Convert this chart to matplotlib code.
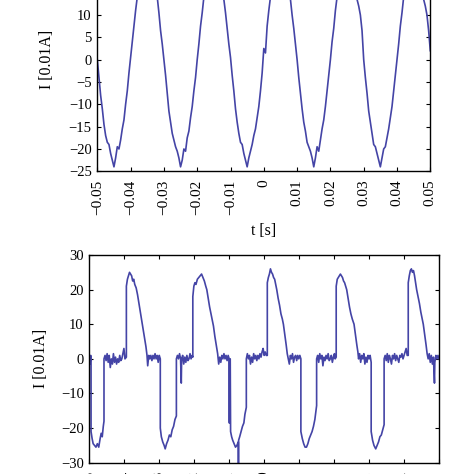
import numpy as np
import matplotlib
matplotlib.use('Agg')
import matplotlib.pyplot as plt

plt.rcParams['font.family'] = ['Liberation Serif', 'DejaVu Serif']
plt.rcParams['axes.unicode_minus'] = True

# tick labels shared by both panels
x_ticks = [-0.05, -0.04, -0.03, -0.02, -0.01, 0, 0.01, 0.02, 0.03, 0.04, 0.05]
x_tick_labels = ['\u22120.05', '\u22120.04', '\u22120.03', '\u22120.02', '\u22120.01', '0',
                 '0.01', '0.02', '0.03', '0.04', '0.05']
top_y_ticks = [-25, -20, -15, -10, -5, 0, 5, 10, 15, 20, 25]
bottom_y_ticks = [-30, -20, -10, 0, 10, 20, 30]

# top panel: sampled every 0.5 ms from -50 ms to 50 ms
top_t_start_ms = -50.0
top_t_step_ms = 0.5
top_current = [
    # -50 .. -30.5 ms
    0, -4, -8, -11, -14.5, -17, -18.5, -19, -21, -22.5, -24,
    -22, -19.5, -20, -18, -15.5, -13.5, -10, -7, -3, 0.5,
    4, 7.5, 11, 14, 17, 19.5, 21.5, 23, 23.5, 24,
    23.5, 22.5, 21, 19, 16.5, 14, 10.5, 6.5, 3.5,
    # -30 .. -10.5 ms
    0, -3.5, -7.5, -11.5, -14, -16.5, -18, -19.5, -20.5, -22, -24,
    -22.5, -20, -20.5, -17.5, -16, -13, -10.5, -7, -4, 0,
    3.5, 7.5, 10.5, 14, 17, 19.5, 21.5, 23, 23.5, 24,
    23.5, 22.5, 21, 19, 16.5, 13.5, 10.5, 7, 3.5,
    # -10 .. 9.5 ms
    0.5, -3.5, -7, -11, -14, -16.5, -18.5, -19, -21, -22.5, -24,
    -22, -20.5, -19, -17, -15.5, -13, -10.5, -7, -3, 2.5,
    1.5, 7.5, 11, 14, 17, 19.5, 21.5, 23, 23.5, 24,
    23.5, 22.5, 21, 19, 16.5, 13.5, 10, 7, 3.5,
    # 10 .. 29.5 ms
    0, -4, -7.5, -11, -14, -16, -18.5, -19.5, -20.5, -22, -24,
    -22, -19.5, -20.5, -18, -15.5, -13.5, -10.5, -7, -3.5, 0,
    4, 7, 11, 14, 17, 19.5, 21.5, 23, 23.5, 24,
    23.5, 22.5, 21, 19, 16.5, 13.5, 12, 10, 6.5,
    # 30 .. 50 ms
    0, -4, -7.5, -11.5, -14, -16.5, -19, -19.5, -21, -22.5, -24,
    -22, -20, -19.5, -17.5, -15.5, -13, -10.5, -7, -3.5, 0,
    3.5, 7.5, 10.5, 14, 17, 19.5, 21.5, 23, 23.5, 24,
    23.5, 22.5, 21, 19, 16.5, 13.5, 12, 10, 6.5,
    2,
]

# bottom panel: breakpoints (time in ms, current)
bottom_t_ms = [
    -50.0, -49.8, -49.6, -49.5, -49.5, -49.2, -48.9, -48.5, -48.1, -47.7, -47.3, -46.9, -46.6, -46.3, -46.0, -45.8,
    -45.8, -45.5, -45.2, -44.9, -44.6, -44.3, -44.0, -43.7, -43.4, -43.1, -42.8, -42.5, -42.2, -41.9, -41.6, -41.3,
    -41.0, -40.7, -40.4, -40.1, -39.8, -39.4,
    -39.4, -39.1, -38.8, -38.5, -38.2, -37.9, -37.6, -37.3, -37.0, -36.6, -36.2, -35.8, -35.4, -35.0, -34.6, -34.2,
    -33.8, -33.5, -33.3, -33.0, -32.7, -32.4, -32.1, -31.8, -31.5, -31.2, -30.9, -30.6, -30.3, -30.0, -29.7,
    -29.7, -29.4, -29.0, -28.6, -28.3, -27.9, -27.5, -27.1, -26.7, -26.3, -25.9, -25.5, -25.1,
    -25.1, -24.8, -24.5, -24.2, -23.9, -23.7, -23.6, -23.3, -23.0, -22.7, -22.4, -22.1, -21.8, -21.5, -21.2, -20.9,
    -20.6, -20.4,
    -20.4, -20.1, -19.8, -19.5, -19.1, -18.7, -18.3, -17.9, -17.5, -17.1, -16.7, -16.4, -16.0, -15.6, -15.2, -14.8,
    -14.5, -14.1, -13.7, -13.3, -13.0, -12.7, -12.4, -12.1, -11.8, -11.5, -11.2, -10.9, -10.6, -10.3, -10.0,
    -10.0, -9.9, -9.9, -9.7,
    -9.6, -9.3, -9.0, -8.6, -8.2, -7.8, -7.4, -7.35, -7.3, -7.0, -6.6, -6.2, -5.8, -5.5, -5.1,
    -5.1, -4.8, -4.5, -4.2, -3.9, -3.6, -3.3, -3.0, -2.7, -2.4, -2.1, -1.8, -1.5, -1.2, -0.9, -0.6, -0.3, 0.0, 0.3,
    0.6, 0.9,
    0.9, 1.2, 1.5, 1.8, 2.1, 2.4, 2.7, 3.0, 3.3, 3.6, 4.0, 4.4, 4.8, 5.2, 5.5, 5.9, 6.3, 6.6, 6.9,
    7.2, 7.5, 7.8, 8.1, 8.4, 8.7, 9.0, 9.3, 9.6, 9.9, 10.2, 10.5,
    10.5, 10.9, 11.3, 11.7, 12.1, 12.5, 12.9, 13.3, 13.7, 14.1, 14.5, 14.8, 15.0,
    15.0, 15.3, 15.6, 15.9, 16.2, 16.5, 16.8, 17.1, 17.4, 17.7, 18.0, 18.3, 18.6, 18.9, 19.2, 19.5, 19.8, 20.1,
    20.3, 20.6,
    20.6, 20.9, 21.2, 21.5, 21.8, 22.1, 22.4, 22.7, 23.0, 23.3, 23.6, 24.0, 24.4, 24.8, 25.2, 25.7, 26.1, 26.5,
    26.8, 27.0, 27.3, 27.6, 27.9, 28.2, 28.5, 28.8, 29.1, 29.4, 29.7, 30.0, 30.3, 30.6,
    30.6, 31.0, 31.4, 31.9, 32.3, 32.7, 33.1, 33.5, 33.9, 34.3,
    34.3, 34.6, 34.9, 35.2, 35.5, 35.8, 36.1, 36.4, 36.7, 37.0, 37.3, 37.6, 37.9, 38.2, 38.5, 38.8, 39.1, 39.4,
    39.7, 40.0, 40.3, 40.6, 40.9, 41.2,
    41.2, 41.5, 41.8, 42.1, 42.4, 42.7, 43.0, 43.3, 43.6, 44.0, 44.4, 44.8, 45.2, 45.5, 45.9, 46.3, 46.6, 46.9,
    47.2, 47.5, 47.8, 48.1, 48.4, 48.7, 48.8, 49.1, 49.4, 49.7, 50.0,
]
bottom_current = [
    0.5, -1.5, 1, 0, -21, -23, -24.5, -25, -25.5, -24.5, -25.5, -23, -21.5, -22.5, -19.5, -18,
    0, 1, -0.5, 1.5, -1, 1, -2.5, 0, -1.5, 1.5, -1, 0.5, -1.5, 0, -1, 1,
    -0.5, 0, 1.5, 3, 0, 0.5,
    21, 23, 24, 25, 24.5, 24, 22.5, 23, 21.5, 20.5, 18.5, 16, 13.5, 11, 8.5, 6,
    3.5, 1, -2, 1, 0, 1, -0.5, 1, 0, 1.5, 0, 1, -1, 1, 0,
    -20, -22.5, -24, -25, -26, -24.5, -23.5, -22, -22.5, -20.5, -19.5, -17.5, -16.5,
    0, 1, 0, 1.5, 0, -7, 0, 1, -1.5, 0.5, -1, 1, -0.5, 0, 1.5, 0,
    1, 0.5,
    18, 21, 22, 21.5, 23, 23.5, 24, 24.5, 23.5, 22.5, 21, 20, 17.5, 15, 13, 11,
    9.5, 6.5, 4, 1.5, -1.5, 0.5, -1, 1, 0, 1.5, 0, 1, -0.5, 1, 0,
    -18.5, -18.5, 0, 0,
    -21, -22.5, -23.5, -24.5, -25.5, -25, -24, -31, -23.5, -22.5, -21, -19.5, -18.5, -16, -14,
    0, 1.5, 0, 1, -1.5, 0.5, -1, 1.5, 0, 1, -0.5, 1, 0, 1.5, 0.5, 2, 3, 1, 2,
    1, 1,
    22, 23.5, 24.5, 26, 25, 24.5, 23.5, 23, 21.5, 20, 17.5, 15.5, 13, 11.5, 10, 7, 4, 1.5, 0,
    -1.5, 1, 0, 1.5, -1, 0.5, 1, -0.5, 1, 0, 1, 0,
    -21, -23, -24.5, -25.5, -25.5, -24.5, -23, -22, -21, -19.5, -17.5, -15, -13.5,
    0, 1, -1, 1.5, 0, 1, -2, 0.5, -0.5, 1, 0, 1.5, -0.5, 0, 1, -1, 0.5, 1.5,
    0, 0.5,
    21, 23, 23.5, 24, 24.5, 24, 23.5, 22.5, 22, 21, 20, 17.5, 15, 13, 11.5, 10, 7, 4,
    2, 0, 1.5, -1, 1, 0, 1.5, -1.5, 0.5, -1, 1, 0, 1, -1,
    -21, -23.5, -25, -26, -25, -24, -22.5, -22, -20.5, -19,
    0, 1, -0.5, 1.5, -1, 1, 0, -1.5, 1, 0, 1.5, -0.5, 1, 0, -1, 1, 0.5, 1.5,
    0, 1, 2, 3, 1, 1,
    22, 24, 25.5, 26, 25, 25.5, 24, 22, 20, 18, 16, 13.5, 11.5, 10, 7, 4, 1.5, 0,
    1.5, -1, 1, -1.5, 0.5, -7, -1, 1, 0, 1, 0,
]

line_color = '#4444a6'
xtick_fs = 11
ytick_fs = 10.5
label_fs = 11.5

top_t = (top_t_start_ms + top_t_step_ms * np.arange(len(top_current))) / 1000.0
bottom_t = np.array(bottom_t_ms) / 1000.0

fig = plt.figure(figsize=(4.74, 4.74), dpi=100)
ax1 = fig.add_axes([0.2053, 0.6386, 0.7025, 0.4711])
ax2 = fig.add_axes([0.1884, 0.0238, 0.7378, 0.4382])

ax1.plot(top_t, top_current, color=line_color, linewidth=1.2)
ax2.plot(bottom_t, bottom_current, color=line_color, linewidth=1.2)

for ax, yt in [(ax1, top_y_ticks), (ax2, bottom_y_ticks)]:
    ax.set_xlim(-0.05, 0.05)
    ax.set_ylim(yt[0], yt[-1])
    ax.set_xticks(x_ticks)
    ax.set_xticklabels(x_tick_labels, rotation=90, va='top', ha='center')
    ax.set_yticks(yt)
    ax.set_yticklabels([str(v).replace('-', '\u2212') for v in yt])
    ax.tick_params(direction='in', length=3, width=0.8, top=True, right=True)
    ax.tick_params(axis='x', pad=6, labelsize=xtick_fs)
    ax.tick_params(axis='y', pad=4, labelsize=ytick_fs)
    for sp in ax.spines.values():
        sp.set_linewidth(1.0)

ax1.set_ylabel('I [0.01A]', fontsize=label_fs)
ax1.yaxis.set_label_coords(-0.127, 0.5)
ax1.set_xlabel('t [s]', fontsize=label_fs)
ax1.xaxis.set_label_coords(0.5, -0.232)

ax2.set_ylabel('I [0.01A]', fontsize=label_fs)
ax2.yaxis.set_label_coords(-0.115, 0.5)

fig.savefig('out.png', dpi=100)
